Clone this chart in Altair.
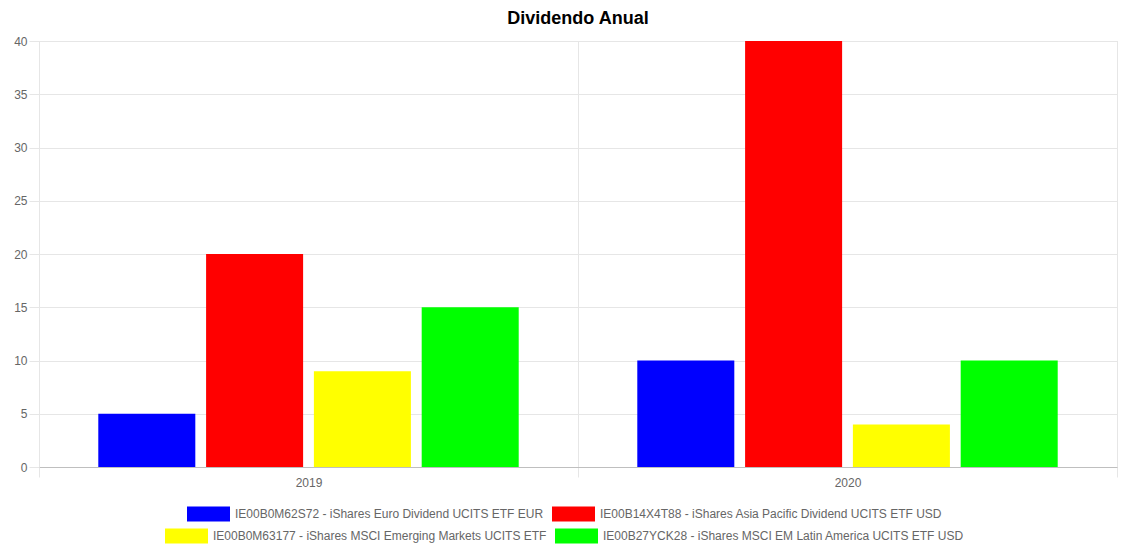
import altair as alt
import pandas as pd

years = ["2019", "2020"]
series = [
    "IE00B0M62S72 - iShares Euro Dividend UCITS ETF EUR",
    "IE00B14X4T88 - iShares Asia Pacific Dividend UCITS ETF USD",
    "IE00B0M63177 - iShares MSCI Emerging Markets UCITS ETF",
    "IE00B27YCK28 - iShares MSCI EM Latin America UCITS ETF USD",
]
values_s1 = [5, 10]
values_s2 = [20, 40]
values_s3 = [9, 4]
values_s4 = [15, 10]
colors = ["#0000ff", "#ff0000", "#ffff00", "#00ff00"]
y_ticks = [0, 5, 10, 15, 20, 25, 30, 35, 40]

rows = []
for s, vals in zip(series, [values_s1, values_s2, values_s3, values_s4]):
    for yr, v in zip(years, vals):
        rows.append({"year": yr, "series": s, "value": v})
df = pd.DataFrame(rows)

FONT = "Liberation Sans"
BOX = "M-1,-0.35H1V0.35H-1Z"

x_enc = alt.X(
    "year:N",
    sort=years,
    scale=alt.Scale(paddingInner=0, paddingOuter=0),
    axis=alt.Axis(
        title=None, labelAngle=0, tickBand="extent", grid=True,
        gridColor="#e6e6e6", tickColor="#e6e6e6", tickSize=10,
        domainColor="#bfbfbf", labelColor="#666666", labelFontSize=12,
        labelFont=FONT, labelPadding=0,
    ),
)
xo_enc = alt.XOffset(
    "series:N", sort=series,
    scale=alt.Scale(domain=series, paddingInner=0.1, paddingOuter=0.55),
)
y_enc = alt.Y(
    "value:Q",
    scale=alt.Scale(domain=[0, 40], nice=False),
    axis=alt.Axis(
        title=None, values=y_ticks, grid=True, gridColor="#e6e6e6",
        tickColor="#e6e6e6", tickSize=10, domain=False,
        labelColor="#666666", labelFontSize=12, labelFont=FONT, labelPadding=2,
    ),
)


def legend(x, y):
    return alt.Legend(
        title=None, orient="none", legendX=x, legendY=y, direction="horizontal",
        columns=2, symbolType=BOX, symbolSize=1849, symbolStrokeWidth=0,
        symbolOpacity=1, labelFont=FONT, labelFontSize=12, labelColor="#666666",
        labelLimit=0, labelOffset=5, columnPadding=8, padding=0,
    )


layer_a = alt.Chart(df).transform_filter(
    alt.FieldOneOfPredicate(field="series", oneOf=series[:2])
).mark_bar(opacity=1).encode(
    x=x_enc, xOffset=xo_enc, y=y_enc,
    color=alt.Color("series:N", sort=series[:2],
                    scale=alt.Scale(domain=series[:2], range=colors[:2]),
                    legend=legend(148, 451)),
)
layer_b = alt.Chart(df).transform_filter(
    alt.FieldOneOfPredicate(field="series", oneOf=series[2:])
).mark_bar(opacity=1).encode(
    x=x_enc, xOffset=xo_enc, y=y_enc,
    fill=alt.Fill("series:N", sort=series[2:],
                  scale=alt.Scale(domain=series[2:], range=colors[2:]),
                  legend=legend(126, 473)),
)

chart = alt.layer(layer_a, layer_b).resolve_scale(
    color="independent", fill="independent"
).properties(
    width=1078, height=426,
    autosize=alt.AutoSizeParams(type="none"),
    padding={"left": 31, "top": 33, "right": 5, "bottom": 80},
    title=alt.TitleParams("Dividendo Anual", fontSize=18, font=FONT,
                          fontWeight="bold", color="#000000", anchor="middle",
                          offset=7),
).configure_view(stroke=None).configure(background="#ffffff")

chart.save("out.html", embed_options={"renderer": "svg", "actions": False})
